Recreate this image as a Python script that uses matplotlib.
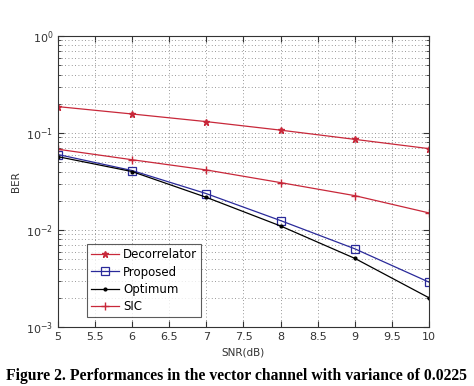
import matplotlib
matplotlib.use("Agg")
import matplotlib.pyplot as plt
from matplotlib.ticker import LogLocator, NullFormatter

snr = [5, 6, 7, 8, 9, 10]
decorrelator = [0.187, 0.157, 0.131, 0.107, 0.086, 0.069]
proposed = [0.060, 0.041, 0.0237, 0.0125, 0.0064, 0.0029]
optimum = [0.057, 0.040, 0.0217, 0.011, 0.0051, 0.0020]
sic = [0.068, 0.053, 0.0416, 0.0308, 0.0226, 0.015]
xticks = [5, 5.5, 6, 6.5, 7, 7.5, 8, 8.5, 9, 9.5, 10]

W, H = 474, 386
fig = plt.figure(figsize=(W / 100, H / 100), dpi=100)
ax = fig.add_axes([58 / W, 1 - 327 / H, (429 - 58) / W, (327 - 36) / H])

red = "#c8283a"
blue = "#2a2a9a"
ax.plot(snr, decorrelator, color=red, marker="*", markersize=5, lw=0.9, label="Decorrelator")
ax.plot(snr, proposed, color=blue, marker="s", markersize=6, mfc="none", mew=0.9, lw=0.9, label="Proposed")
ax.plot(snr, optimum, color="black", marker=".", markersize=4, lw=0.9, label="Optimum")
ax.plot(snr, sic, color=red, marker="+", markersize=6, lw=0.9, label="SIC")

ax.set_yscale("log")
ax.set_ylim(1e-3, 1)
ax.set_xlim(5, 10)
ax.set_xticks(xticks)
ax.set_xticklabels([("%g" % v) for v in xticks])
ax.yaxis.set_major_locator(LogLocator(base=10))
ax.yaxis.set_minor_locator(LogLocator(base=10, subs=range(2, 10)))
ax.yaxis.set_minor_formatter(NullFormatter())

ax.grid(True, which="major", linestyle=(0, (1, 3)), color="#777777", lw=0.6)
ax.grid(True, which="minor", axis="y", linestyle=(0, (1, 3)), color="#777777", lw=0.6)
ax.tick_params(which="both", direction="in", top=True, right=True, labelsize=8, labelcolor="#333333", color="#333333")
ax.tick_params(which="major", length=4)
ax.tick_params(which="minor", length=2)
for s in ax.spines.values():
    s.set_color("#333333")
    s.set_linewidth(0.8)

ax.set_xlabel("SNR(dB)", fontsize=7.5, color="#333333", labelpad=4)
ax.set_ylabel("BER", fontsize=7.5, color="#333333", labelpad=4)

leg = ax.legend(loc="lower left", bbox_to_anchor=((87 - 58) / (429 - 58), (327 - 317) / (327 - 36)),
                borderaxespad=0, fontsize=8.5, frameon=True, fancybox=False, edgecolor="#333333",
                handlelength=2.4, borderpad=0.35, labelspacing=0.35, handletextpad=0.3)
leg.get_frame().set_linewidth(0.8)

fig.text(237 / W, 1 - 376 / H, "Figure 2. Performances in the vector channel with variance of 0.0225",
         ha="center", va="center", fontsize=11.3, fontweight="bold", family="Liberation Serif")

fig.savefig("out.png", dpi=100)
